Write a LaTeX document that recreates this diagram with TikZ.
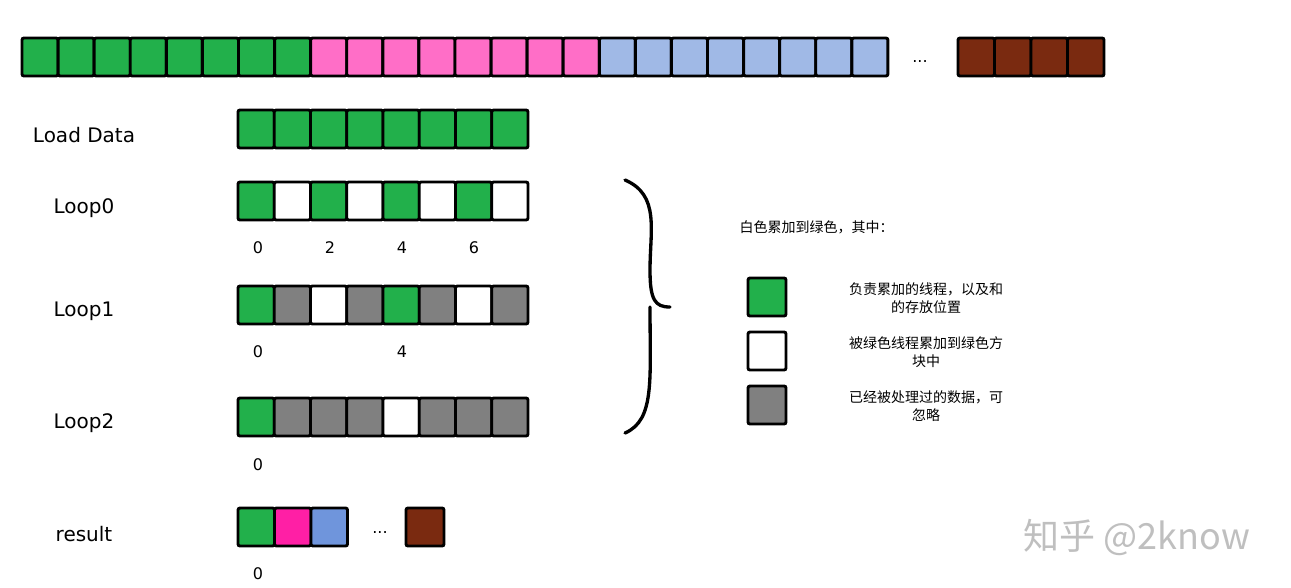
\documentclass[tikz,border=0pt]{standalone}
\usepackage{fontspec}
\setmainfont{DejaVu Sans}
\newfontfamily\cjk{Noto Sans CJK SC}
\definecolor{cg}{HTML}{22B04B}
\definecolor{cp}{HTML}{FF6EC7}
\definecolor{cb}{HTML}{A0B9E6}
\definecolor{cr}{HTML}{7A2A10}
\definecolor{cy}{HTML}{808080}
\definecolor{cp2}{HTML}{FF1FA5}
\definecolor{cb2}{HTML}{6F95DC}
\begin{document}
\begin{tikzpicture}[x=0.75pt,y=-0.75pt,
  cell/.style={draw=black,line width=2.2pt,rounded corners=1.5pt},
  lbl/.style={font=\fontsize{15}{15}\selectfont,anchor=center},
  num/.style={font=\fontsize{12}{12}\selectfont},
  leg/.style={font=\cjk\fontsize{10.5}{14}\selectfont,align=center}]
\useasboundingbox (0,0) rectangle (1291,587);
\newcommand{\cellrow}[4]{% x0, y0, width, list of colours
  \foreach \c [count=\i from 0] in {#4} {
    \fill[\c] ({#1+\i*#3},#2) rectangle ({#1+(\i+1)*#3},#2+38);
    \draw[cell] ({#1+\i*#3},#2) rectangle ({#1+(\i+1)*#3},#2+38);
  }}
\cellrow{22}{38}{36.08}{cg,cg,cg,cg,cg,cg,cg,cg,cp,cp,cp,cp,cp,cp,cp,cp,cb,cb,cb,cb,cb,cb,cb,cb}
\node[num] (dots1) at (920,62) {...};
\cellrow{958}{38}{36.5}{cr,cr,cr,cr}
\node[lbl] (l1) at (84,135) {Load Data};
\cellrow{238}{110}{36.25}{cg,cg,cg,cg,cg,cg,cg,cg}
\node[lbl] (l2) at (84,208) {Loop0};
\cellrow{238}{182}{36.25}{cg,white,cg,white,cg,white,cg,white}
\foreach \n/\x in {0/258,2/330,4/402,6/474} \node[num] at (\x,248) {\n};
\node[lbl] (l3) at (84,311) {Loop1};
\cellrow{238}{286}{36.25}{cg,cy,white,cy,cg,cy,white,cy}
\node[num] at (258,352) {0};\node[num] at (402,352) {4};
\node[lbl] (l4) at (84,423) {Loop2};
\cellrow{238}{398}{36.25}{cg,cy,cy,cy,white,cy,cy,cy}
\node[num] at (258,465) {0};
\node[lbl] (l5) at (84,534) {result};
\cellrow{238}{508}{36.5}{cg,cp2,cb2}
\node[num] (dots2) at (380,532) {...};
\cellrow{406}{508}{38}{cr}
\node[num] at (258,574) {0};
\draw[line width=2.5pt,line cap=round] (625,180) .. controls (660,195) and (650,230) .. (650,270) .. controls (650,300) and (655,307) .. (670,307);
\draw[line width=2.5pt,line cap=round] (650,307) .. controls (650,380) and (655,420) .. (625,433);
\node[leg,anchor=west] (t0) at (735,227) {白色累加到绿色，其中：};
\fill[cg] (748,278) rectangle (786,316); \draw[cell] (748,278) rectangle (786,316);
\fill[white] (748,332) rectangle (786,370); \draw[cell] (748,332) rectangle (786,370);
\fill[cy] (748,386) rectangle (786,424); \draw[cell] (748,386) rectangle (786,424);
\node[leg] (t1) at (926,298) {负责累加的线程，以及和\\的存放位置};
\node[leg] (t2) at (926,352) {被绿色线程累加到绿色方\\块中};
\node[leg] (t3) at (926,406) {已经被处理过的数据，可\\忽略};
\node[font=\cjk\fontsize{27}{27}\selectfont,text=gray!50] (wm) at (1137,537) {知乎 @2know};
\end{tikzpicture}
\end{document}
